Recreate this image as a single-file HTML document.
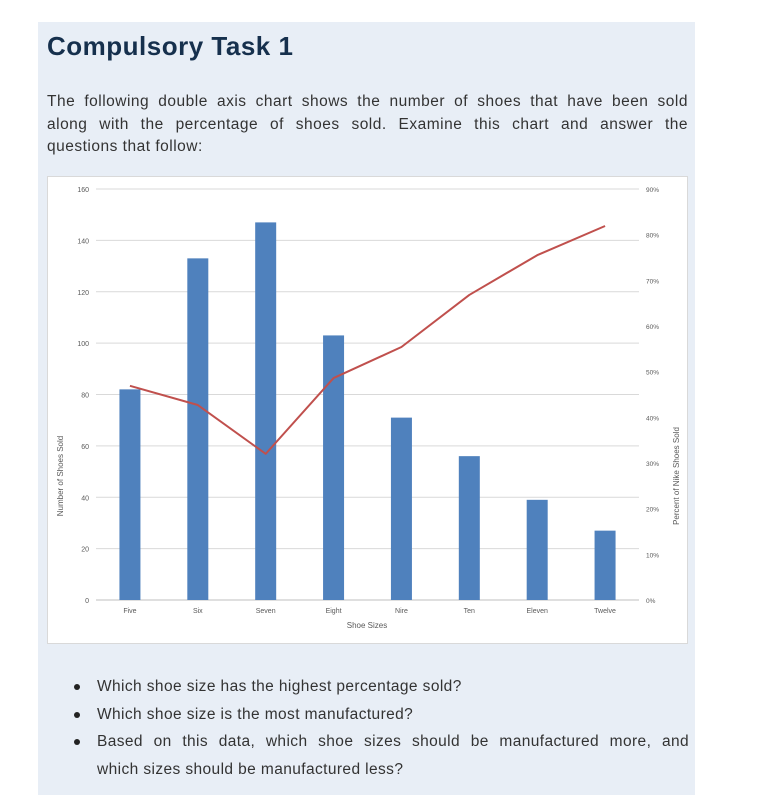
<!DOCTYPE html>
<html><head><meta charset="utf-8"><style>
body{margin:0;width:757px;height:805px;background:#fff;font-family:"Liberation Sans",sans-serif;position:relative;overflow:hidden}
#panel{position:absolute;left:38px;top:22px;width:657px;height:773px;background:#e8eef6}
h1{position:absolute;left:9px;top:9px;margin:0;font-size:26px;font-weight:bold;color:#16304d;letter-spacing:0.5px}
#para{position:absolute;left:9px;top:69px;width:641px;font-size:15.5px;line-height:22.5px;color:#333;margin:0;letter-spacing:0.5px}
.jl{display:block;text-align:justify;text-align-last:justify;white-space:nowrap}
.ll{display:block}
#chart{position:absolute;left:47px;top:176px}
ul{position:absolute;left:59px;top:673px;width:630px;margin:0;padding-left:0;list-style:none;font-size:15.5px;color:#333;letter-spacing:0.4px}
li{position:relative;padding-left:38px;line-height:27.5px}
li::before{content:"";position:absolute;left:15px;top:11px;width:6px;height:6px;border-radius:50%;background:#222}
</style></head><body>
<div id="panel">
<h1>Compulsory Task 1</h1>
<p id="para"><span class="jl">The following double axis chart shows the number of shoes that have been sold</span><span class="jl">along with the percentage of shoes sold. Examine this chart and answer the</span><span class="ll">questions that follow:</span></p>
</div>
<svg id="chart" width="641" height="468" font-family="Liberation Sans, sans-serif">
<rect x="0.5" y="0.5" width="640" height="467" fill="#fff" stroke="#d9d9d9"/>
<g id="grid"></g><g id="bars"></g><g id="line"></g><g id="labels"></g>
<text x="16" y="300" font-size="8" fill="#595959" transform="rotate(-90 16 300)" text-anchor="middle">Number of Shoes Sold</text>
<text x="632" y="300" font-size="8" fill="#595959" transform="rotate(-90 632 300)" text-anchor="middle">Percent of Nike Shoes Sold</text>
<text x="320" y="452" font-size="8" fill="#595959" text-anchor="middle">Shoe Sizes</text>
</svg>
<ul>
<li>Which shoe size has the highest percentage sold?</li>
<li>Which shoe size is the most manufactured?</li>
<li><span class="jl">Based on this data, which shoe sizes should be manufactured more, and</span><span class="ll">which sizes should be manufactured less?</span></li>
</ul>
<script>
const categories=["Five","Six","Seven","Eight","Nire","Ten","Eleven","Twelve"];
const sold=[82,133,147,103,71,56,39,27];
const percent=[46.9,42.7,32,48.6,55.4,66.8,75.5,81.9];
const leftTicks=[0,20,40,60,80,100,120,140,160];
const rightTicks=[0,10,20,30,40,50,60,70,80,90];
const NS="http://www.w3.org/2000/svg";
const x0=49,x1=592,y0=424,yTop=13;
const band=(x1-x0)/categories.length;
const xC=i=>x0+band*(i+0.5);
const yL=v=>y0-(v/160)*(y0-yTop);
const yR=v=>y0-(v/90)*(y0-yTop);
function mk(t,a,p){const e=document.createElementNS(NS,t);for(const k in a)e.setAttribute(k,a[k]);p.appendChild(e);return e;}
const grid=document.getElementById('grid'),bars=document.getElementById('bars'),lab=document.getElementById('labels'),ln=document.getElementById('line');
leftTicks.forEach(v=>{
 const g=mk('line',{x1:x0,x2:x1,y1:yL(v),y2:yL(v),stroke:v===0?'#bfbfbf':'#d9d9d9','stroke-width':1},grid);
 
 
 const t=mk('text',{x:42,y:yL(v)+3,'font-size':7,fill:'#595959','text-anchor':'end'},lab);
 t.textContent=v;
 
 
});
rightTicks.forEach(v=>{
 const t=mk('text',{x:599,y:yR(v)+3,'font-size':6.5,fill:'#595959'},lab);
 t.textContent=v+'%';
 
 
});
categories.forEach((c,i)=>{
 const r=mk('rect',{x:xC(i)-10.5,y:yL(sold[i]),width:21,height:y0-yL(sold[i]),fill:'#4f81bd'},bars);
 
 
 const t=mk('text',{x:xC(i),y:y0+13,'font-size':7,fill:'#595959','text-anchor':'middle'},lab);
 t.textContent=c;
 
 
});
const pl=mk('polyline',{points:percent.map((v,i)=>xC(i)+','+yR(v)).join(' '),fill:'none',stroke:'#c0504d','stroke-width':2,'stroke-linejoin':'round'},ln);


</script>
</body></html>
